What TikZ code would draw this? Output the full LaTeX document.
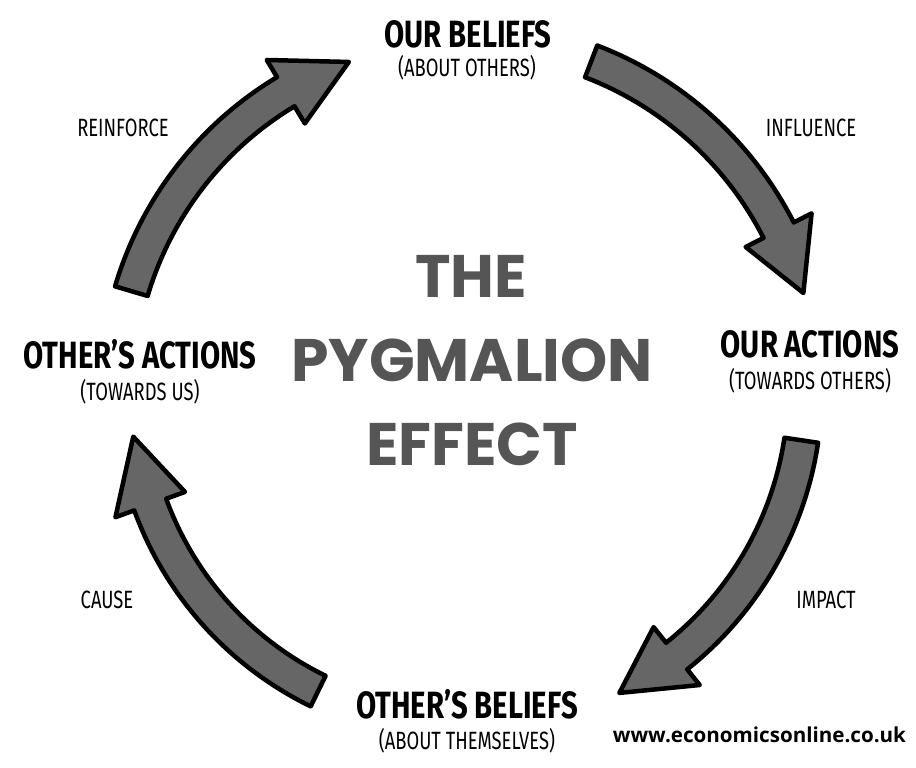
\documentclass[tikz,border=0pt]{standalone}
\usepackage{fontspec}
\newfontfamily\headfont[FakeStretch=0.77]{Fira Sans}
\newfontfamily\subfont[FakeStretch=0.735]{Fira Sans}
\newfontfamily\titlefont{Poppins}
\newfontfamily\urlfont{Open Sans}
\definecolor{arrowgray}{HTML}{666666}
\definecolor{titlegray}{HTML}{555555}
\newcommand\cyclearrow[4]{% radius, tail angle, head-base angle, tip angle
  \pgfmathsetmacro\ro{#1+17}%
  \pgfmathsetmacro\ri{#1-17}%
  \pgfmathsetmacro\ho{#1+37}%
  \pgfmathsetmacro\hi{#1-37}%
  \draw[blockarrow] (#2:\ro) arc[start angle=#2, end angle=#3, radius=\ro]
    -- (#3:\ho) -- (#4:#1) -- (#3:\hi) -- (#3:\ri)
    arc[start angle=#3, end angle=#2, radius=\ri] -- cycle;}
\begin{document}
\begin{tikzpicture}[x=1pt,y=1pt,
  head/.style={font=\headfont\bfseries\fontsize{38}{40}\selectfont, inner sep=0pt, anchor=base},
  sub/.style={font=\subfont\fontsize{25}{27}\selectfont, inner sep=0pt, anchor=base},
  lbl/.style={font=\subfont\fontsize{25}{27}\selectfont, inner sep=0pt, anchor=base},
  ttl/.style={font=\titlefont\bfseries\fontsize{60}{70}\selectfont, text=titlegray, inner sep=0pt, anchor=base},
  blockarrow/.style={fill=arrowgray, draw=black, line width=4.5pt, line join=round}]
\useasboundingbox (0,0) rectangle (916,768);
\fill[white] (0,0) rectangle (916,768);
% arrows around the cycle
\begin{scope}[shift={(465,378)}]
  \cyclearrow{352}{69}{27}{16}
  \cyclearrow{340}{-8.5}{-51.5}{-63}
  \cyclearrow{335}{244}{200}{188}
  \cyclearrow{348}{163.5}{121}{109.5}
\end{scope}
% stage texts
\node[head] (ob) at (468,720) {OUR BELIEFS};
\node[sub] (obs) at (467,691) {(ABOUT OTHERS)};
\node[head] (oa) at (810,410) {OUR ACTIONS};
\node[sub] (oas) at (810,378) {(TOWARDS OTHERS)};
\node[head] (xa) at (140,399) {OTHER’S ACTIONS};
\node[sub] (xas) at (140,367) {(TOWARDS US)};
\node[head] (xb) at (467,49) {OTHER’S BELIEFS};
\node[sub] (xbs) at (467,18) {(ABOUT THEMSELVES)};
% arrow labels
\node[lbl] (l1) at (123,631) {REINFORCE};
\node[lbl] (l2) at (811,631) {INFLUENCE};
\node[lbl] (l3) at (826,159) {IMPACT};
\node[lbl] (l4) at (107,159) {CAUSE};
% title
\node[ttl] (t1) at (471,470) {THE};
\node[ttl] (t2) at (472,386) {PYGMALION};
\node[ttl] (t3) at (472,302) {EFFECT};
% url
\node[font=\urlfont\bfseries\fontsize{20.6}{22}\selectfont, inner sep=0pt, anchor=base] (url) at (759.5,25) {www.economicsonline.co.uk};
\end{tikzpicture}
\end{document}
